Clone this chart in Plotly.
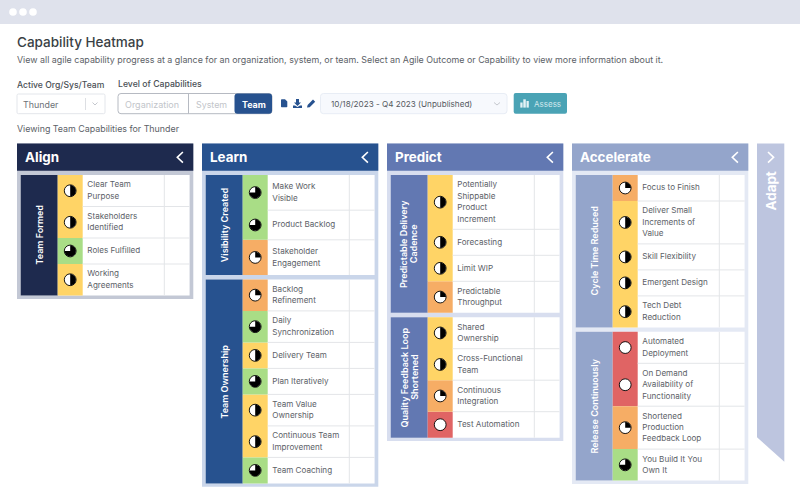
import math
import plotly.graph_objects as go

# ---------- data ----------
outcomes = ["Align", "Learn", "Predict", "Accelerate"]
collapsed_outcome = "Adapt"

align_groups = [["Team Formed"]]
align_caps = [[["Clear Team", "Purpose"], ["Stakeholders", "Identified"], ["Roles Fulfilled"], ["Working", "Agreements"]]]
align_scores = [[2, 2, 3, 2]]

learn_groups = [["Visibility Created"], ["Team Ownership"]]
learn_caps = [
    [["Make Work", "Visible"], ["Product Backlog"], ["Stakeholder", "Engagement"]],
    [["Backlog", "Refinement"], ["Daily", "Synchronization"], ["Delivery Team"], ["Plan Iteratively"],
     ["Team Value", "Ownership"], ["Continuous Team", "Improvement"], ["Team Coaching"]],
]
learn_scores = [[3, 3, 1], [1, 3, 2, 3, 2, 2, 3]]

predict_groups = [["Predictable Delivery", "Cadence"], ["Quality Feedback Loop", "Shortened"]]
predict_caps = [
    [["Potentially", "Shippable", "Product", "Increment"], ["Forecasting"], ["Limit WIP"], ["Predictable", "Throughput"]],
    [["Shared", "Ownership"], ["Cross-Functional", "Team"], ["Continuous", "Integration"], ["Test Automation"]],
]
predict_scores = [[2, 2, 2, 1], [2, 2, 1, 0]]

accelerate_groups = [["Cycle Time Reduced"], ["Release Continuously"]]
accelerate_caps = [
    [["Focus to Finish"], ["Deliver Small", "Increments of", "Value"], ["Skill Flexibility"], ["Emergent Design"],
     ["Tech Debt", "Reduction"]],
    [["Automated", "Deployment"], ["On Demand", "Availability of", "Functionality"],
     ["Shortened", "Production", "Feedback Loop"], ["You Build It You", "Own It"]],
]
accelerate_scores = [[1, 2, 2, 2, 2], [0, 0, 1, 3]]

all_groups = [align_groups, learn_groups, predict_groups, accelerate_groups]
all_caps = [align_caps, learn_caps, predict_caps, accelerate_caps]
all_scores = [align_scores, learn_scores, predict_scores, accelerate_scores]

score_colors = ["#E06464", "#F6AD65", "#FFD466", "#A9DD86"]
header_colors = ["#1E2A4E", "#27528F", "#6278B2", "#94A5CB"]
panel_colors = ["#C3C8D5", "#CAD6EA", "#D8DEEF", "#E4E9F4"]
adapt_color = "#BDC5DF"

title_text = "Capability Heatmap"
subtitle_text = ("View all agile capability progress at a glance for an organization, system, or team. "
                 "Select an Agile Outcome or Capability to view more information about it.")
org_label = "Active Org/Sys/Team"
level_label = "Level of Capabilities"
org_value = "Thunder"
levels = ["Organization", "System", "Team"]
date_value = "10/18/2023 - Q4 2023 (Unpublished)"
assess_label = "Assess"
viewing_text = "Viewing Team Capabilities for Thunder"

# ---------- style / layout constants ----------
W, H = 800, 494
FONT = "Inter"
TXT = "#5c6167"
BLUE = "#27528F"
shapes, annos = [], []


def T(x, y, s, size, color=TXT, weight=400, anchor="left", angle=0):
    # annotations carry about 2px of built-in padding on the anchored side
    ax = x - 2 if anchor == "left" else x
    annos.append(dict(x=ax, y=y, xref="x", yref="y", text=s, showarrow=False, xanchor=anchor, yanchor="middle",
                      textangle=angle, font=dict(family=FONT, size=size, color=color, weight=weight)))


def rect(x0, y0, x1, y1, fill, line=None, lw=1):
    shapes.append(dict(type="rect", x0=x0, y0=y0, x1=x1, y1=y1, fillcolor=fill, layer="below",
                       line=dict(color=line or fill, width=lw if line else 0)))


def rrect(x0, y0, x1, y1, r, fill, line=None, lw=1):
    p = (f"M{x0+r},{y0} L{x1-r},{y0} Q{x1},{y0} {x1},{y0+r} L{x1},{y1-r} Q{x1},{y1} {x1-r},{y1} "
         f"L{x0+r},{y1} Q{x0},{y1} {x0},{y1-r} L{x0},{y0+r} Q{x0},{y0} {x0+r},{y0} Z")
    shapes.append(dict(type="path", path=p, fillcolor=fill, layer="below",
                       line=dict(color=line or fill, width=lw if line else 0)))


def path(p, fill=None, line=None, lw=1.5):
    shapes.append(dict(type="path", path=p, fillcolor=fill or "rgba(0,0,0,0)", layer="above",
                       line=dict(color=line or "rgba(0,0,0,0)", width=lw if line else 0)))


# ---------- page chrome ----------
rect(0, 0, W, 24, "#DFE2EC")
for cx in (13, 23, 33):
    shapes.append(dict(type="circle", x0=cx-3.8, y0=8.2, x1=cx+3.8, y1=15.8, fillcolor="white", line=dict(width=0)))

T(17, 41.5, title_text, 13.5, "#3a3f45", 500)
T(17, 59.5, subtitle_text, 8.9)
T(17, 84.5, org_label, 8.6, "#4a4f55", 500)
T(118, 84, level_label, 8.7, "#4a4f55", 500)

rrect(17, 94, 105, 113.7, 1.5, "white", "#E3E6EB")
T(22.5, 104, org_value, 8.9, "#6d7278")
shapes.append(dict(type="line", x0=85.5, x1=85.5, y0=98, y1=110, line=dict(color="#DDDFE3", width=1)))
path("M92.5,102.5 L95,105 L97.5,102.5", line="#C5C8CE", lw=1)

rrect(118, 93.5, 272, 113.7, 3, "white", "#B6BAC2")
shapes.append(dict(type="line", x0=188.5, x1=188.5, y0=93.5, y1=113.7, line=dict(color="#B6BAC2", width=1)))
rrect(234.5, 93.5, 272, 113.7, 3, BLUE)
T(125, 104, levels[0], 9, "#C2C5CA")
T(195.5, 104, levels[1], 8.9, "#C2C5CA")
T(253.5, 104, levels[2], 8.9, "white", 700, "center")

# doc, download, pencil icons
path("M281,100 Q281,99.3 281.7,99.3 L285,99.3 L287.3,101.6 L287.3,106.6 Q287.3,107.3 286.6,107.3 "
     "L281.7,107.3 Q281,107.3 281,106.6 Z", fill=BLUE)
path("M296,99 L299,99 L299,102.5 L301,102.5 L297.5,106 L294,102.5 L296,102.5 Z M293,105.5 L295,105.5 L297.5,107 "
     "L300,105.5 L302,105.5 L302,108 L293,108 Z", fill=BLUE)
path("M307,107.6 L307.6,105 L313,99.6 L315.2,101.8 L309.7,107.2 Z", fill=BLUE)

rrect(320.5, 93.5, 507, 113.7, 3, "#F7F9FD", "#E8EDF5")
T(331, 104, date_value, 8.15, "#55595f")
path("M494,102.5 L497,105 L500,102.5", line="#C5C8CE", lw=1)

rrect(513.7, 93, 567, 113.7, 2, "#4AA3B5")
for bx0, bx1, by0 in ((520.3, 522.6, 102.5), (523.3, 525.8, 99.3), (526.5, 528.8, 101)):
    rect(bx0, by0, bx1, 107.6, "#E4F2F5")
    shapes[-1]["layer"] = "above"
T(533.5, 103.7, assess_label, 8.0, "#CFE7EC")
T(17, 128.5, viewing_text, 8.87)

# ---------- capability columns ----------
COL_X = [17, 202, 387, 572]
COL_W = 176.3
TOP = 143.5
HEAD_H = 27.2
BODY_TOP = 175
PAD = 3.7
LABEL_W = 37
HEAT_W = 25
TEXT_W = 81.6
GROUP_GAP = 4.4
MIN_GROUP_H = 100
LINE_H = 11.4
MAX_R = 5.7


def row_height(n_lines):
    return max(26.0, 8.7 + LINE_H * n_lines)


cells = [{"x": [], "y": []} for _ in score_colors]
wedge_x, wedge_y = [], []
ball_x, ball_y = [], []
text_x, text_y, text_s = [], [], []
rule_x, rule_y = [], []

for ci, name in enumerate(outcomes):
    x0 = COL_X[ci]
    hc = header_colors[ci]
    heights = []
    for caps in all_caps[ci]:
        hs = [row_height(len(c)) for c in caps]
        extra = max(0.0, MIN_GROUP_H - sum(hs)) / len(hs)
        heights.append([h + extra for h in hs])
    body_h = sum(sum(h) for h in heights) + GROUP_GAP * (len(heights) - 1)
    rect(x0, TOP, x0 + COL_W, BODY_TOP + body_h + 3.4, panel_colors[ci])
    rect(x0, TOP, x0 + COL_W, TOP + HEAD_H, hc)
    T(x0 + 8.3, TOP + 13.8, name, 13.4, "white", 700)
    xc = x0 + COL_W - 13.2
    path(f"M{xc+2.8},{TOP+8.5} L{xc-2.8},{TOP+13.8} L{xc+2.8},{TOP+19.1}", line="white", lw=1.6)

    y = BODY_TOP
    for gi, hs in enumerate(heights):
        gx0 = x0 + PAD
        heat_x0 = gx0 + LABEL_W
        heat_x1 = heat_x0 + HEAT_W
        div_x = heat_x1 + TEXT_W
        gx1 = x0 + COL_W - PAD
        gh = sum(hs)
        rect(gx0, y, gx1, y + gh, "white")
        rect(gx0, y, heat_x0, y + gh, hc)
        label_lines = all_groups[ci][gi][0:]
        mid = y + gh / 2
        for li, line in enumerate(label_lines):
            lx = gx0 + LABEL_W / 2 + (li - (len(label_lines) - 1) / 2) * 10.2
            T(lx, mid, line, 9.0, "white", 600, "center", -90)
        ry = y
        for ri, h in enumerate(hs):
            s = all_scores[ci][gi][ri]
            c = cells[s]
            c["x"] += [heat_x0, heat_x1, heat_x1, heat_x0, heat_x0, None]
            c["y"] += [ry, ry, ry + h, ry + h, ry, None]
            bx, by = (heat_x0 + heat_x1) / 2, ry + h / 2
            ball_x.append(bx)
            ball_y.append(by)
            if s > 0:
                pts = [(bx, by)]
                n = 12 * s
                for k in range(n + 1):
                    a = math.pi / 2 * s * k / n
                    pts.append((bx + MAX_R * math.sin(a), by - MAX_R * math.cos(a)))
                pts.append((bx, by))
                wedge_x += [p[0] for p in pts] + [None]
                wedge_y += [p[1] for p in pts] + [None]
            lines = all_caps[ci][gi][ri]
            for li, line in enumerate(lines):
                text_x.append(heat_x1 + 4.6)
                text_y.append(by + 0.4 + (li - (len(lines) - 1) / 2) * LINE_H)
                text_s.append(line)
            if ri < len(hs) - 1:
                rule_x += [heat_x1, gx1, None]
                rule_y += [ry + h, ry + h, None]
            ry += h
        rule_x += [div_x, div_x, None]
        rule_y += [y, y + gh, None]
        y += gh + GROUP_GAP

# collapsed outcome
ax0, ax1 = 757, 784.3
path(f"M{ax0},{TOP} L{ax1},{TOP} L{ax1},461.7 L{ax0},437.3 Z", fill=adapt_color)
path(f"M{768},{TOP+8.5} L{773.6},{TOP+13.8} L{768},{TOP+19.1}", line="white", lw=1.6)
T(770.5, 191, collapsed_outcome, 13.4, "white", 700, "center", -90)

# ---------- traces ----------
fig = go.Figure()
for s, c in enumerate(cells):
    fig.add_trace(go.Scatter(x=c["x"], y=c["y"], mode="lines", fill="toself", fillcolor=score_colors[s],
                             line=dict(width=0, color=score_colors[s]), hoverinfo="skip"))
fig.add_trace(go.Scatter(x=rule_x, y=rule_y, mode="lines", line=dict(color="#E3E5E8", width=1), hoverinfo="skip"))
fig.add_trace(go.Scatter(x=ball_x, y=ball_y, mode="markers",
                         marker=dict(size=2 * MAX_R + 0.4, color="white", line=dict(color="black", width=0.9)),
                         hoverinfo="skip"))
fig.add_trace(go.Scatter(x=wedge_x, y=wedge_y, mode="lines", fill="toself", fillcolor="black",
                         line=dict(width=0, color="black"), hoverinfo="skip"))
fig.add_trace(go.Scatter(x=text_x, y=text_y, text=text_s, mode="text", textposition="middle right",
                         textfont=dict(family=FONT, size=8.1, color=TXT), hoverinfo="skip"))

fig.update_layout(
    width=W, height=H, autosize=False, showlegend=False, paper_bgcolor="white", plot_bgcolor="white",
    margin=dict(l=0, r=0, t=0, b=0), shapes=shapes, annotations=annos,
    xaxis=dict(range=[0, W], visible=False, fixedrange=True),
    yaxis=dict(range=[H, 0], visible=False, fixedrange=True),
)
fig.write_html("out.html", config=dict(displayModeBar=False),
               post_script="document.body.style.margin='0';document.body.style.overflow='hidden';")
